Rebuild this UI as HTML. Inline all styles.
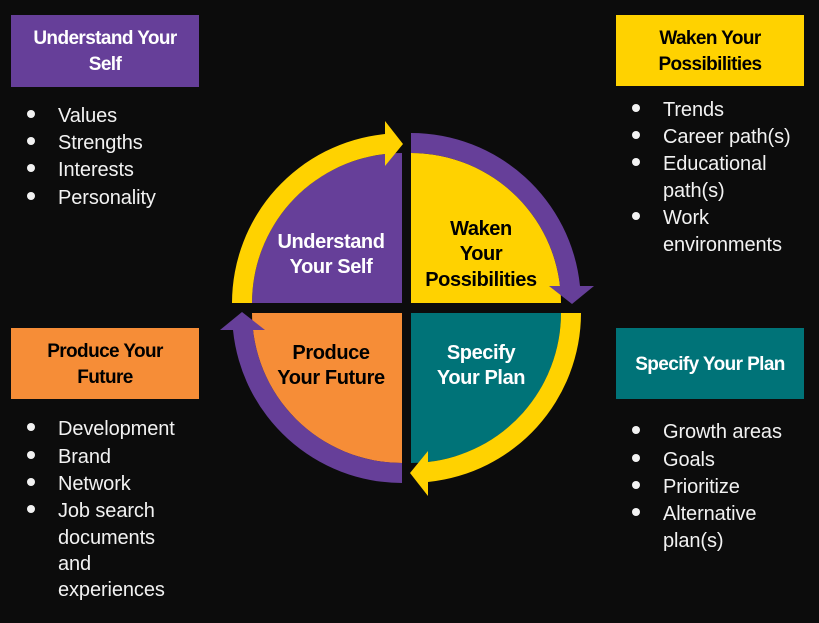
<!DOCTYPE html>
<html><head><meta charset="utf-8"><style>
html,body{margin:0;padding:0}
body{width:819px;height:623px;background:#0c0c0c;position:relative;overflow:hidden;font-family:"Liberation Sans",sans-serif}
.box{position:absolute;display:flex;align-items:center;justify-content:center;text-align:center;font-weight:bold;font-size:19px;line-height:26px;letter-spacing:-0.6px;padding-top:2px;box-sizing:border-box}
.li{position:absolute;color:#f2f2f2;font-size:20px;line-height:20px;white-space:nowrap;letter-spacing:-0.1px;margin-top:2px}
.b{position:absolute;width:8px;height:8px;border-radius:50%;background:#f2f2f2}
svg{position:absolute;left:0;top:0}
.ct{font-family:"Liberation Sans",sans-serif;font-weight:bold;font-size:20px;text-anchor:middle;letter-spacing:-0.4px}
</style></head><body>
<svg width="819" height="623" viewBox="0 0 819 623">
<path d="M402,303 L252,303 A150,150 0 0 1 402,153 Z" fill="#663f99"/>
<path d="M411,303 L411,153 A150,150 0 0 1 561,303 Z" fill="#ffd200"/>
<path d="M411,313 L561,313 A150,150 0 0 1 411,463 Z" fill="#007378"/>
<path d="M402,313 L402,463 A150,150 0 0 1 252,313 Z" fill="#f68d37"/>
<path d="M232,303 A170,170 0 0 1 385,134 L385,154 A150,150 0 0 0 252,303 Z" fill="#ffd200"/>
<polygon points="385,121 385,166 403,144" fill="#ffd200"/>
<path d="M411,133 A170,170 0 0 1 580,286 L560,286 A150,150 0 0 0 411,153 Z" fill="#663f99"/>
<polygon points="549,286 594,286 572,304" fill="#663f99"/>
<path d="M581,313 A170,170 0 0 1 428,482 L428,462 A150,150 0 0 0 561,313 Z" fill="#ffd200"/>
<polygon points="428,451 428,496 410,473" fill="#ffd200"/>
<path d="M402,483 A170,170 0 0 1 233,330 L253,330 A150,150 0 0 0 402,463 Z" fill="#663f99"/>
<polygon points="220,330 265,330 242,312" fill="#663f99"/>
<text class="ct" fill="#fff" x="331" y="248">Understand</text>
<text class="ct" fill="#fff" x="331" y="273">Your Self</text>
<text class="ct" fill="#000" x="481" y="235">Waken</text>
<text class="ct" fill="#000" x="481" y="260">Your</text>
<text class="ct" fill="#000" x="481" y="286">Possibilities</text>
<text class="ct" fill="#000" x="331" y="359">Produce</text>
<text class="ct" fill="#000" x="331" y="384">Your Future</text>
<text class="ct" fill="#fff" x="481" y="359">Specify</text>
<text class="ct" fill="#fff" x="481" y="384">Your Plan</text>
</svg>
<div class="box" style="left:11px;top:15px;width:188px;height:72px;background:#663f99;color:#fff">Understand Your<br>Self</div>
<div class="box" style="left:616px;top:15px;width:188px;height:71px;background:#ffd200;color:#000">Waken Your<br>Possibilities</div>
<div class="box" style="left:11px;top:328px;width:188px;height:71px;background:#f68d37;color:#000">Produce Your<br>Future</div>
<div class="box" style="left:616px;top:328px;width:188px;height:71px;background:#007378;color:#fff">Specify Your Plan</div>

<div class="b" style="left:27px;top:110px"></div><div class="li" style="left:58px;top:104px">Values</div>
<div class="b" style="left:27px;top:137px"></div><div class="li" style="left:58px;top:131px">Strengths</div>
<div class="b" style="left:27px;top:164px"></div><div class="li" style="left:58px;top:158px">Interests</div>
<div class="b" style="left:27px;top:192px"></div><div class="li" style="left:58px;top:186px">Personality</div>

<div class="b" style="left:632px;top:104px"></div><div class="li" style="left:663px;top:98px">Trends</div>
<div class="b" style="left:632px;top:131px"></div><div class="li" style="left:663px;top:125px">Career path(s)</div>
<div class="b" style="left:632px;top:158px"></div><div class="li" style="left:663px;top:152px">Educational</div>
<div class="li" style="left:663px;top:179px">path(s)</div>
<div class="b" style="left:632px;top:212px"></div><div class="li" style="left:663px;top:206px">Work</div>
<div class="li" style="left:663px;top:233px">environments</div>

<div class="b" style="left:27px;top:423px"></div><div class="li" style="left:58px;top:417px">Development</div>
<div class="b" style="left:27px;top:451px"></div><div class="li" style="left:58px;top:445px">Brand</div>
<div class="b" style="left:27px;top:478px"></div><div class="li" style="left:58px;top:472px">Network</div>
<div class="b" style="left:27px;top:505px"></div><div class="li" style="left:58px;top:499px">Job search</div>
<div class="li" style="left:58px;top:526px">documents</div>
<div class="li" style="left:58px;top:552px">and</div>
<div class="li" style="left:58px;top:578px">experiences</div>

<div class="b" style="left:632px;top:426px"></div><div class="li" style="left:663px;top:420px">Growth areas</div>
<div class="b" style="left:632px;top:454px"></div><div class="li" style="left:663px;top:448px">Goals</div>
<div class="b" style="left:632px;top:481px"></div><div class="li" style="left:663px;top:475px">Prioritize</div>
<div class="b" style="left:632px;top:508px"></div><div class="li" style="left:663px;top:502px">Alternative</div>
<div class="li" style="left:663px;top:529px">plan(s)</div>
</body></html>
